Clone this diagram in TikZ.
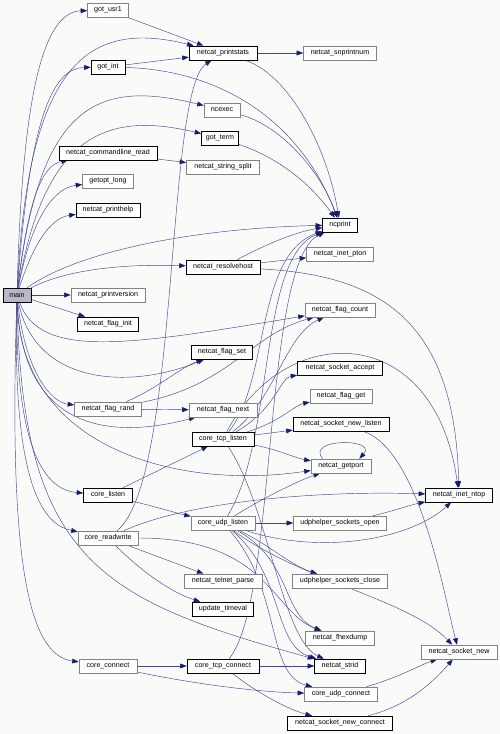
\documentclass[tikz,border=0pt]{standalone}
\usepackage{fontspec}
\setmainfont{Liberation Sans}
\usetikzlibrary{arrows.meta}
\definecolor{bgc}{RGB}{249,251,249}
\definecolor{edgec}{RGB}{68,68,150}
\definecolor{tipc}{RGB}{25,25,112}
\definecolor{rootc}{RGB}{184,184,204}
\definecolor{gborder}{RGB}{130,130,130}
\pgfdeclarelayer{bglayer}
\pgfdeclarelayer{edgelayer}
\pgfsetlayers{bglayer,edgelayer,main}
\tikzset{
  box/.style={draw=black, line width=0.6pt, fill=white, minimum height=14pt,
    inner sep=0pt, font=\fontsize{7.1}{8}\selectfont},
  gbox/.style={box, draw=gborder},
  rootbox/.style={box, fill=rootc},
  e/.style={draw=edgec, line width=0.45pt, -{Triangle[length=6.5pt,width=4.8pt,color=tipc]}}
}
\begin{document}
\begin{tikzpicture}[x=1pt,y=-1pt]
\begin{pgfonlayer}{bglayer}
\fill[bgc] (0,0) rectangle (500,734);
\end{pgfonlayer}
\useasboundingbox (0,0) rectangle (500,734);

\node[gbox,minimum width=41pt] (gotusr1) at (108,10) {got\_usr1};
\node[box,minimum width=68pt] (printstats) at (223,53) {netcat\_printstats};
\node[gbox,minimum width=73pt] (snprintnum) at (340,53) {netcat\_snprintnum};
\node[box,minimum width=34pt] (gotint) at (108,67) {got\_int};
\node[gbox,minimum width=36pt] (ncexec) at (222,110) {ncexec};
\node[box,minimum width=37pt] (gotterm) at (220,138) {got\_term};
\node[box,minimum width=98pt] (cmdread) at (108,153) {netcat\_commandline\_read};
\node[gbox,minimum width=73pt] (strsplit) at (223,167) {netcat\_string\_split};
\node[gbox,minimum width=51pt] (getopt) at (108,181) {getopt\_long};
\node[box,minimum width=64pt] (printhelp) at (108,210) {netcat\_printhelp};
\node[box,minimum width=35pt] (ncprint) at (340,225) {ncprint};
\node[gbox,minimum width=67pt] (pton) at (340,254) {netcat\_inet\_pton};
\node[box,minimum width=74pt] (resolve) at (223,267) {netcat\_resolvehost};
\node[rootbox,minimum width=28pt] (main) at (17,295) {main};
\node[gbox,minimum width=74pt] (printver) at (108,295) {netcat\_printversion};
\node[box,minimum width=61pt] (flaginit) at (108,324) {netcat\_flag\_init};
\node[gbox,minimum width=70pt] (flagcount) at (340,310) {netcat\_flag\_count};
\node[box,minimum width=61pt] (flagset) at (222,352) {netcat\_flag\_set};
\node[box,minimum width=85pt] (accept) at (340,368) {netcat\_socket\_accept};
\node[gbox,minimum width=62pt] (flagget) at (341,396) {netcat\_flag\_get};
\node[gbox,minimum width=67pt] (flagrand) at (108,409) {netcat\_flag\_rand};
\node[gbox,minimum width=68pt] (flagnext) at (223,410) {netcat\_flag\_next};
\node[box,minimum width=96pt] (newlisten) at (341,424) {netcat\_socket\_new\_listen};
\node[box,minimum width=62pt] (tcplisten) at (223,439) {core\_tcp\_listen};
\node[gbox,minimum width=60pt] (getport) at (341,466) {netcat\_getport};
\node[box,minimum width=49pt] (corelisten) at (108,495) {core\_listen};
\node[box,minimum width=67pt] (ntop) at (459,495) {netcat\_inet\_ntop};
\node[gbox,minimum width=64pt] (udplisten) at (223,523) {core\_udp\_listen};
\node[gbox,minimum width=93pt] (sockopen) at (340,523) {udphelper\_sockets\_open};
\node[gbox,minimum width=60pt] (readwrite) at (108,538) {core\_readwrite};
\node[gbox,minimum width=78pt] (telnet) at (223,581) {netcat\_telnet\_parse};
\node[gbox,minimum width=95pt] (sockclose) at (340,581) {udphelper\_sockets\_close};
\node[box,minimum width=61pt] (timeval) at (223,609) {update\_timeval};
\node[gbox,minimum width=69pt] (hexdump) at (340,638) {netcat\_fhexdump};
\node[gbox,minimum width=76pt] (socknew) at (459,652) {netcat\_socket\_new};
\node[gbox,minimum width=58pt] (connect) at (108,666) {core\_connect};
\node[box,minimum width=72pt] (tcpconnect) at (223,666) {core\_tcp\_connect};
\node[box,minimum width=51pt] (strid) at (340,666) {netcat\_strid};
\node[gbox,minimum width=73pt] (udpconnect) at (341,694) {core\_udp\_connect};
\node[box,minimum width=105pt] (newconnect) at (340,723) {netcat\_socket\_new\_connect};

\begin{pgfonlayer}{edgelayer}
% from main, upward
\draw[e] (main) .. controls (22,110) and (40,12) .. (gotusr1);
\draw[e] (main) .. controls (28,60) and (90,20) .. (printstats);
\draw[e] (main) .. controls (30,110) and (55,68) .. (gotint);
\draw[e] (main) .. controls (40,100) and (100,80) .. (ncexec);
\draw[e] (main) .. controls (45,130) and (110,112) .. (gotterm);
\draw[e] (main) .. controls (28,200) and (42,165) .. (cmdread);
\draw[e] (main) .. controls (32,215) and (55,188) .. (getopt);
\draw[e] (main) .. controls (33,245) and (50,218) .. (printhelp);
\draw[e] (main) .. controls (80,250) and (200,228) .. (ncprint);
\draw[e] (main) .. controls (70,268) and (130,264) .. (resolve);
\draw[e] (main) -- (printver);
\draw[e] (main) -- (flaginit);
% from main, downward
\draw[e] (main) .. controls (40,360) and (130,345) .. (flagcount);
\draw[e] (main) .. controls (35,385) and (130,390) .. (flagset);
\draw[e] (main) .. controls (25,370) and (50,402) .. (flagrand);
\draw[e] (main) .. controls (22,430) and (110,440) .. (flagnext);
\draw[e] (main) .. controls (20,450) and (180,490) .. (getport);
\draw[e] (main) .. controls (15,450) and (45,490) .. (corelisten);
\draw[e] (main) .. controls (12,490) and (45,525) .. (readwrite);
\draw[e] (main) .. controls (8,570) and (30,655) .. (connect);
\draw[e] (main) .. controls (22,560) and (100,600) .. (strid);
% upper part
\draw[e] (gotusr1) -- (printstats);
\draw[e] (gotint) -- (printstats);
\draw[e] (gotint) .. controls (220,70) and (300,120) .. (ncprint);
\draw[e] (printstats) -- (snprintnum);
\draw[e] (printstats) .. controls (290,75) and (328,150) .. (ncprint);
\draw[e] (ncexec) .. controls (280,125) and (320,170) .. (ncprint);
\draw[e] (gotterm) .. controls (285,160) and (315,190) .. (ncprint);
\draw[e] (cmdread) -- (strsplit);
\draw[e] (resolve) .. controls (265,245) and (295,232) .. (ncprint);
\draw[e] (resolve) -- (pton);
\draw[e] (resolve) .. controls (380,275) and (455,320) .. (ntop);
% flags
\draw[e] (flagrand) .. controls (155,390) and (180,368) .. (flagset);
\draw[e] (flagrand) -- (flagnext);
\draw[e] (flagrand) .. controls (230,385) and (250,335) .. (flagcount);
% core_tcp_listen
\draw[e] (tcplisten) .. controls (275,400) and (285,335) .. (flagcount);
\draw[e] (tcplisten) .. controls (270,380) and (255,255) .. (ncprint);
\draw[e] (tcplisten) .. controls (275,410) and (280,378) .. (accept);
\draw[e] (tcplisten) .. controls (280,422) and (295,405) .. (flagget);
\draw[e] (tcplisten) -- (newlisten);
\draw[e] (tcplisten) .. controls (280,450) and (295,458) .. (getport);
\draw[e] (tcplisten) .. controls (285,320) and (435,320) .. (ntop);
\draw[e] (tcplisten) .. controls (268,505) and (282,640) .. (strid);
\path (getport.north west) ++(12,0) coordinate (gl1)
  (getport.north east) ++(-12,0) coordinate (gl2);
\draw[e] (gl1) .. controls (305,438) and (378,438) .. (gl2);
% core_listen
\draw[e] (corelisten) -- (tcplisten);
\draw[e] (corelisten) .. controls (160,508) and (180,514) .. (udplisten);
% core_udp_listen
\draw[e] (udplisten) -- (sockopen);
\draw[e] (udplisten) .. controls (260,500) and (295,482) .. (getport);
\draw[e] (udplisten) .. controls (275,440) and (258,258) .. (ncprint);
\draw[e] (udplisten) .. controls (320,555) and (410,540) .. (ntop);
\draw[e] (udplisten) .. controls (270,545) and (290,565) .. (sockclose);
\draw[e] (udplisten) .. controls (300,580) and (410,600) .. (socknew);
\draw[e] (udplisten) .. controls (292,560) and (282,615) .. (hexdump);
\draw[e] (udplisten) .. controls (285,575) and (272,645) .. (strid);
\draw[e] (udplisten) .. controls (282,590) and (266,675) .. (udpconnect);
\draw[e] (sockopen) .. controls (390,512) and (410,505) .. (ntop);
% core_readwrite
\draw[e] (readwrite) .. controls (180,480) and (165,90) .. (printstats);
\draw[e] (readwrite) .. controls (180,505) and (300,490) .. (ntop);
\draw[e] (readwrite) -- (telnet);
\draw[e] (readwrite) .. controls (140,570) and (170,592) .. (timeval);
\draw[e] (readwrite) .. controls (268,538) and (272,612) .. (hexdump);
% connect
\draw[e] (connect) -- (tcpconnect);
\draw[e] (connect) .. controls (200,685) and (260,692) .. (udpconnect);
\draw[e] (tcpconnect) .. controls (278,600) and (262,262) .. (ncprint);
\draw[e] (tcpconnect) -- (strid);
\draw[e] (tcpconnect) .. controls (260,695) and (290,710) .. (newconnect);
\draw[e] (udpconnect) .. controls (400,677) and (420,665) .. (socknew);
\draw[e] (newconnect) .. controls (410,705) and (435,680) .. (socknew);
\draw[e] (newlisten) .. controls (420,450) and (445,600) .. (socknew);
\end{pgfonlayer}
\end{tikzpicture}
\end{document}
